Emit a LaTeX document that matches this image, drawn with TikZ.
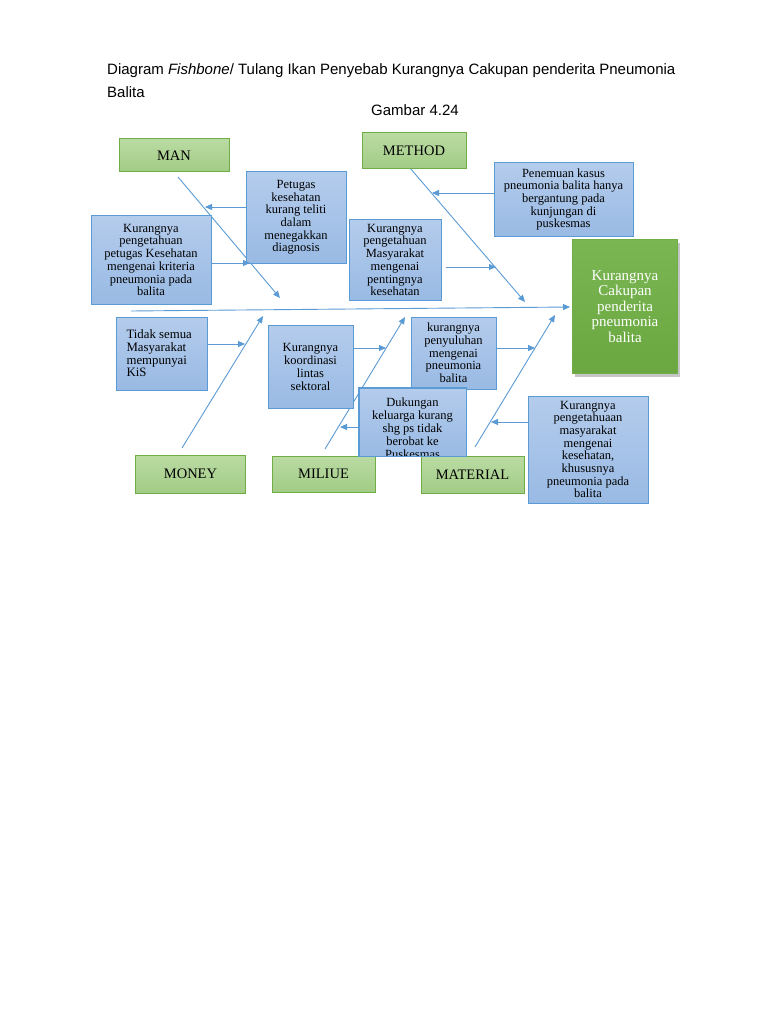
\documentclass[tikz,border=0pt]{standalone}
\usepackage{fontspec}
\setmainfont{Liberation Serif}
\newfontfamily\titlefont{Liberation Sans}
\usetikzlibrary{arrows.meta,shadows}
\definecolor{bbord}{RGB}{91,155,213}
\definecolor{bluetop}{RGB}{180,204,236}
\definecolor{bluebot}{RGB}{153,186,228}
\definecolor{gbord}{RGB}{112,173,71}
\definecolor{greentop}{RGB}{186,219,163}
\definecolor{greenbot}{RGB}{162,204,133}
\definecolor{efftop}{RGB}{122,182,82}
\definecolor{effbot}{RGB}{106,167,64}
\begin{document}
\begin{tikzpicture}[x=1pt,y=-1pt,
  bbox/.style={draw=bbord, line width=1pt, top color=bluetop, bottom color=bluebot,
    align=center, inner sep=2pt, font=\fontsize{12.5}{12.7}\selectfont},
  btext/.style={align=center, inner sep=2pt, font=\fontsize{12.5}{13}\selectfont},
  gbox/.style={draw=gbord, line width=1pt, top color=greentop, bottom color=greenbot,
    inner sep=2pt, font=\fontsize{14.5}{15}\selectfont},
  effbox/.style={draw=gbord, line width=0.8pt, top color=efftop, bottom color=effbot,
    text=white, align=center, font=\fontsize{15}{15.4}\selectfont,
    drop shadow={shadow xshift=2.5pt, shadow yshift=-3pt, opacity=0.45}},
  arr/.style={draw=bbord, line width=0.9pt, -{Triangle[length=7pt,width=6pt]}},
  ttext/.style={inner sep=0pt, font=\titlefont\fontsize{15}{18}\selectfont},
]
\useasboundingbox[fill=white] (0,0) rectangle (768,1024);

% title
\node[ttext, anchor=base west] (title1) at (107,75) {Diagram \textit{Fishbone}/ Tulang Ikan Penyebab Kurangnya Cakupan penderita Pneumonia};
\node[ttext, anchor=base west] (title2) at (107,97.5) {Balita};
\node[ttext, anchor=base] (title3) at (415,116) {Gambar 4.24};

% bone coordinates
\coordinate (spineS) at (131,311);
\coordinate (spineE) at (570,307);
\coordinate (manS) at (178,177);
\coordinate (manE) at (280,298);
\coordinate (metS) at (410,168);
\coordinate (metE) at (525,302);
\coordinate (monS) at (182,448);
\coordinate (monE) at (263,316);
\coordinate (milS) at (325,449);
\coordinate (milE) at (405,317);
\coordinate (matS) at (475,447);
\coordinate (matE) at (555,315);

% bones
\draw[arr] (spineS) -- (spineE);
\draw[arr] (manS) -- (manE);
\draw[arr] (metS) -- (metE);
\draw[arr] (monS) -- (monE);
\draw[arr] (milS) -- (milE);
\draw[arr] (matS) -- (matE);

% category labels
\node[gbox, minimum width=110, minimum height=33] (man) at (174,155.5) {MAN};
\node[gbox, minimum width=104, minimum height=36] (method) at (414,151) {METHOD};
\node[gbox, minimum width=110, minimum height=38] (money) at (190.5,474) {MONEY};
\node[gbox, minimum width=103, minimum height=36] (miliue) at (323.5,474) {MILIUE};
\node[gbox, minimum width=103, minimum height=37] (material) at (472.5,474.5) {MATERIAL};

% effect
\node[effbox, minimum width=105, minimum height=134] (effect) at (625,306.5)
  {Kurangnya\\Cakupan\\penderita\\pneumonia\\balita};

% cause boxes
\node[bbox, minimum width=100, minimum height=91] (petugas) at (296,217.5)
  {Petugas\\kesehatan\\kurang teliti\\dalam\\menegakkan\\diagnosis};
\node[bbox, minimum width=120, minimum height=88] (kpetugas) at (151,260)
  {Kurangnya\\pengetahuan\\petugas Kesehatan\\mengenai kriteria\\pneumonia pada\\balita};
\node[bbox, minimum width=92, minimum height=80] (kmasy) at (395,260)
  {Kurangnya\\pengetahuan\\Masyarakat\\mengenai\\pentingnya\\kesehatan};
\node[bbox, minimum width=139, minimum height=73] (penemuan) at (563.5,199.5)
  {Penemuan kasus\\pneumonia balita hanya\\bergantung pada\\kunjungan di\\puskesmas};
\node[bbox, minimum width=91, minimum height=73, align=left, font=\fontsize{12.8}{12.6}\selectfont] (tidak) at (161.5,353.5)
  {Tidak semua\\Masyarakat\\mempunyai\\KiS\hspace*{50pt}};
\node[bbox, minimum width=85, minimum height=83, font=\fontsize{12.5}{13}\selectfont] (koord) at (310.5,366.5)
  {Kurangnya\\koordinasi\\lintas\\sektoral};
\node[bbox, minimum width=85, minimum height=72] (penyul) at (453.5,353)
  {kurangnya\\penyuluhan\\mengenai\\pneumonia\\balita};
\node[bbox, minimum width=120, minimum height=107, font=\fontsize{12.5}{12.7}\selectfont] (kpeng) at (588,449.5)
  {Kurangnya\\pengetahuaan\\masyarakat\\mengenai\\kesehatan,\\khususnya\\pneumonia pada\\balita};
\node[bbox, minimum width=107, minimum height=68] (dukung) at (412.5,422) {};
\begin{scope}
  \clip ([shift={(0.5pt,0.5pt)}]dukung.south west) rectangle ([shift={(-0.5pt,-0.5pt)}]dukung.north east);
  \node[btext, anchor=north] (dukungtxt) at ([yshift=-8pt]dukung.north)
    {Dukungan\\keluarga kurang\\shg ps tidak\\berobat ke\\Puskesmas};
\end{scope}
\draw[draw=bbord, line width=1pt] (dukung.south west) rectangle (dukung.north east);

% cause arrow tips
\coordinate (t1) at (205,207);
\coordinate (t2) at (250,263);
\coordinate (t3) at (432,193);
\coordinate (t4) at (496,267);
\coordinate (t5) at (245,344);
\coordinate (t6) at (386,348);
\coordinate (t7) at (535,348);
\coordinate (t8) at (340,427);
\coordinate (t9) at (491,422);

% cause arrows
\draw[arr] (petugas.west |- t1) -- (t1);
\draw[arr] (kpetugas.east |- t2) -- (t2);
\draw[arr] (penemuan.west |- t3) -- (t3);
\draw[arr] ([xshift=4pt]kmasy.east |- t4) -- (t4);
\draw[arr] (tidak.east |- t5) -- (t5);
\draw[arr] (koord.east |- t6) -- (t6);
\draw[arr] (penyul.east |- t7) -- (t7);
\draw[arr] (dukung.west |- t8) -- (t8);
\draw[arr] (kpeng.west |- t9) -- (t9);
\end{tikzpicture}
\end{document}
